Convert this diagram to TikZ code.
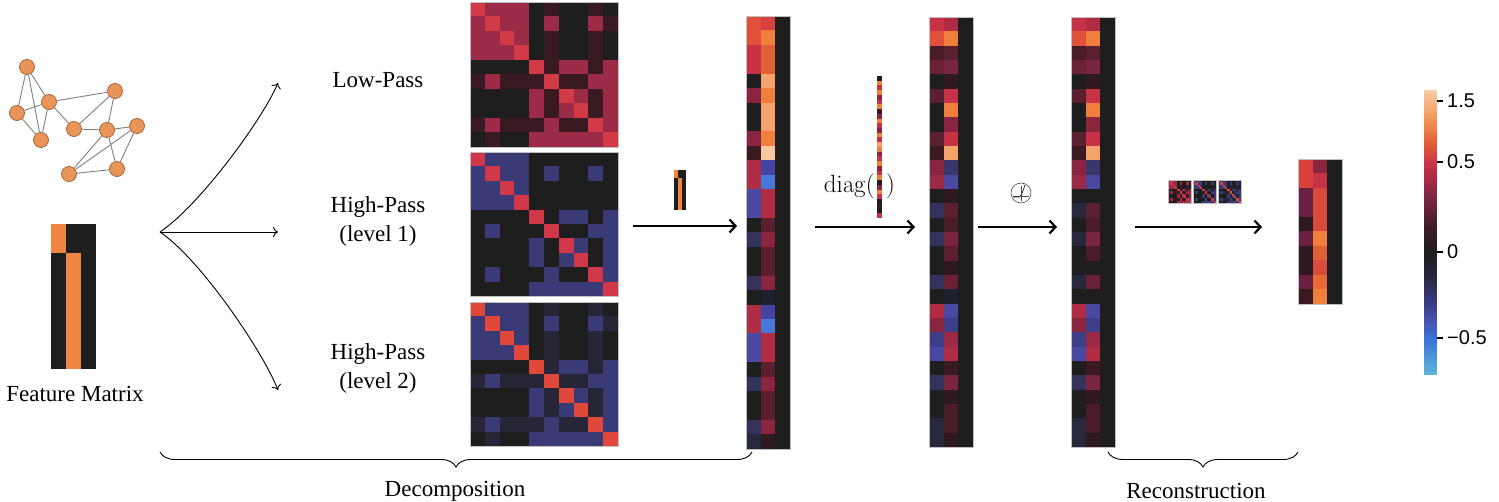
\documentclass[tikz,border=0pt]{standalone}
\usepackage[no-math]{fontspec}
\setmainfont{Liberation Serif}
\newfontfamily\cbfont{Liberation Sans}
\usetikzlibrary{arrows.meta,decorations.pathreplacing}
% matrix colours
\definecolor{K}{HTML}{1E1E1E}
\definecolor{lR}{HTML}{D23A48}
\definecolor{lM}{HTML}{9C2B47}
\definecolor{lD}{HTML}{3A1A22}
\definecolor{hR}{HTML}{D0384A}
\definecolor{hB}{HTML}{3A3A76}
\definecolor{gR}{HTML}{E0483C}
\definecolor{hN}{HTML}{262636}
% column colours
\definecolor{pO1}{HTML}{E0503A}
\definecolor{pRd}{HTML}{D84040}
\definecolor{pR}{HTML}{C83246}
\definecolor{pR2}{HTML}{B02C45}
\definecolor{pR3}{HTML}{9A2A45}
\definecolor{pM}{HTML}{8A2540}
\definecolor{pM2}{HTML}{7A2540}
\definecolor{pMD}{HTML}{6A2035}
\definecolor{pDR}{HTML}{5A2030}
\definecolor{pDR2}{HTML}{4A1C28}
\definecolor{pD}{HTML}{3A1A20}
\definecolor{pDDR}{HTML}{2E1A1E}
\definecolor{pO}{HTML}{F07E3C}
\definecolor{pOr}{HTML}{E06035}
\definecolor{pOr2}{HTML}{E86838}
\definecolor{pLO}{HTML}{F4A46A}
\definecolor{pPe}{HTML}{F8C8A0}
\definecolor{pBl}{HTML}{4A48A0}
\definecolor{pBB}{HTML}{4878D8}
\definecolor{pBP}{HTML}{4444A0}
\definecolor{pBN}{HTML}{3E3E88}
\definecolor{pN}{HTML}{32325A}
\definecolor{pN2}{HTML}{38366A}
\definecolor{pDN}{HTML}{28283C}
\definecolor{pDK}{HTML}{1E2030}
\definecolor{pO2}{HTML}{D8403A}
\definecolor{pRO}{HTML}{D84A3A}
\definecolor{pPu}{HTML}{6A2040}
\definecolor{nodeO}{HTML}{E8955A}
\definecolor{nodeE}{HTML}{A86438}
\definecolor{featO}{HTML}{EE8540}
% colorbar
\definecolor{cb1}{HTML}{F9CDA6}
\definecolor{cb2}{HTML}{F08A4A}
\definecolor{cb3}{HTML}{E05A38}
\definecolor{cb4}{HTML}{C8304A}
\definecolor{cb5}{HTML}{7A2440}
\definecolor{cb6}{HTML}{3A1C24}
\definecolor{cb7}{HTML}{1E1E1E}
\definecolor{cb8}{HTML}{26263A}
\definecolor{cb9}{HTML}{38387A}
\definecolor{cb10}{HTML}{4850B0}
\definecolor{cb11}{HTML}{3A70D8}
\definecolor{cb12}{HTML}{5CB4D8}

\def\matLP{{lR,lM,lM,lM,K,lD,K,K,lD,K},{lM,lR,lM,lM,K,lM,K,K,lM,lD},{lM,lM,lR,lM,K,lD,K,K,lD,K},{lM,lM,lM,lR,K,lD,K,K,lD,K},{K,K,K,K,lR,lD,lM,lM,lD,lM},{lD,lM,lD,lD,lD,lR,lD,lD,lM,lM},{K,K,K,K,lM,lD,lR,lM,lD,lM},{K,K,K,K,lM,lD,lM,lR,lD,lM},{lD,lM,lD,lD,lD,lM,lD,lD,lR,lM},{K,lD,K,K,lM,lM,lM,lM,lM,lR}}
\def\matHA{{hR,hB,hB,hB,K,K,K,K,K,K},{hB,hR,hB,hB,K,hB,K,K,hB,K},{hB,hB,hR,hB,K,K,K,K,K,K},{hB,hB,hB,hR,K,K,K,K,K,K},{K,K,K,K,hR,K,hB,hB,K,hB},{K,hB,K,K,K,hR,K,K,hB,hB},{K,K,K,K,hB,K,hR,hB,K,hB},{K,K,K,K,hB,K,hB,hR,K,hB},{K,hB,K,K,K,hB,K,K,hR,hB},{K,K,K,K,hB,hB,hB,hB,hB,hR}}
\def\matHB{{gR,hB,hB,hB,K,hN,K,K,hN,K},{hB,gR,hB,hB,K,hB,K,K,hB,hN},{hB,hB,gR,hB,K,hN,K,K,hN,K},{hB,hB,hB,gR,K,hN,K,K,hN,K},{K,K,K,K,gR,hN,hB,hB,hN,hB},{hN,hB,hN,hN,hN,gR,hN,hN,hB,hB},{K,K,K,K,hB,hN,gR,hB,hN,hB},{K,K,K,K,hB,hN,hB,gR,hN,hB},{hN,hB,hN,hN,hN,hB,hN,hN,gR,hB},{K,hN,K,K,hB,hB,hB,hB,hB,gR}}
\def\colA{{pO1,pRd,K},{pO1,pO,K},{pR,pOr,K},{pR,pOr,K},{K,pLO,K},{pM,pO,K},{K,pLO,K},{K,pLO,K},{pM,pO,K},{pD,pPe,K},{pR2,pBP,K},{pR2,pBB,K},{pBl,pR2,K},{pBl,pR2,K},{K,pDR,K},{pN,pM,K},{K,pDR,K},{K,pDR,K},{pN,pM,K},{K,pDK,K},{pR2,pBP,K},{pR2,pBB,K},{pBl,pR2,K},{pBl,pR2,K},{K,pDR,K},{pN,pM,K},{K,pDR,K},{K,pDR,K},{pN,pM,K},{pDN,pDDR,K}}
\def\colB{{pR,pR2,K},{pO1,pO,K},{pDR2,pDR,K},{pMD,pM2,K},{K,pDDR,K},{pDR,pR,K},{K,pO,K},{K,pM,K},{pDR,pR,K},{pD,pLO,K},{pM,pN2,K},{pR3,pBl,K},{K,pDDR,K},{pN,pDR,K},{K,pDR2,K},{pN,pM2,K},{K,pDR,K},{K,pDDR,K},{pN,pMD,K},{K,pDK,K},{pR2,pBl,K},{pM,pBN,K},{pBN,pR3,K},{pBl,pR2,K},{K,pD,K},{pN,pM2,K},{K,pDDR,K},{K,pDR2,K},{pDN,pDR2,K},{pDN,pDDR,K}}
\def\colC{{pR,pR2,K},{pO1,pO,K},{pDR2,pDR,K},{pMD,pM2,K},{K,pDDR,K},{pDR,pR,K},{K,pO,K},{K,pM,K},{pDR,pR,K},{pD,pLO,K},{pM,pN2,K},{pR3,pBl,K},{K,K,K},{pDN,pDR,K},{K,pDR2,K},{pDN,pM2,K},{K,pDR2,K},{K,K,K},{pDN,pMD,K},{K,K,K},{pR2,pBl,K},{pM,pBN,K},{pBN,pR3,K},{pBl,pR2,K},{K,pD,K},{pN,pM2,K},{K,pDDR,K},{K,pDR2,K},{pDN,pDR2,K},{pDN,pDDR,K}}
\def\colOut{{pO2,pM,K},{pO2,pR,K},{pPu,pRO,K},{pPu,pRO,K},{pDDR,pRO,K},{pPu,pO,K},{pDDR,pOr,K},{pDDR,pRO,K},{pPu,pOr2,K},{pD,pO,K}}
\def\colDiag{{K},{pO},{pR},{pO},{pM},{pR},{pO},{pD},{pM},{pO},{pR},{pM},{pO},{pR},{pLO},{pO},{pM},{pR},{pO},{pM},{pR},{pO},{K},{pM},{pO},{pR},{K},{pD},{K},{pR}}

% x, y, cell width, cell height, list macro
\newcommand{\heatgrid}[5]{%
  \foreach \rw [count=\ii from 0] in #5 {%
    \foreach \cc [count=\jj from 0] in \rw {%
      \fill[\cc] ({#1+\jj*#3},{#2+\ii*#4}) rectangle ++({#3+0.3},{#4+0.3});
    }%
  }%
}
\newcommand{\gradseg}[4]{%
  \foreach \t in {0,...,19} {%
    \pgfmathsetmacro{\pp}{\t*100/19}%
    \fill[#4!\pp!#3] (1424,{#1+(#2-#1)*\t/20}) rectangle (1437,{#1+(#2-#1)*(\t+1)/20+0.5});
  }%
}

\tikzset{
  gnode/.style={circle,fill=nodeO,draw=nodeE,line width=0.8pt,minimum size=15pt,inner sep=0pt},
  gedge/.style={draw=black!50,line width=0.9pt},
  lbl/.style={font=\fontsize{23}{27}\selectfont,inner sep=0pt},
  fanarrow/.style={line width=0.9pt,-{To[length=5pt,width=10pt]}},
  bigarrow/.style={line width=2.2pt,-{Straight Barb[length=6pt,width=13pt]}},
  matframe/.style={draw=black!25,line width=0.6pt},
  bracestyle/.style={decorate,line width=0.9pt},
  cblbl/.style={font=\cbfont\fontsize{20}{24}\selectfont,anchor=west,inner sep=0pt}
}

\begin{document}
\begin{tikzpicture}[x=1pt,y=-1pt]
\useasboundingbox (0,0) rectangle (1499,502);
\fill[white] (0,0) rectangle (1499,502);

% ---------- graph ----------
\node[gnode] (gA) at (27,67) {};
\node[gnode] (gB) at (49,102) {};
\node[gnode] (gC) at (17,113) {};
\node[gnode] (gD) at (41,140) {};
\node[gnode] (gE) at (115,91) {};
\node[gnode] (gF) at (74,129) {};
\node[gnode] (gG) at (107,130) {};
\node[gnode] (gH) at (137,126) {};
\node[gnode] (gI) at (69,174) {};
\node[gnode] (gJ) at (117,169) {};
\foreach \a/\b in {gA/gC,gA/gB,gA/gD,gC/gB,gC/gD,gB/gD,gB/gE,gB/gF,gF/gG,gE/gF,gE/gG,gG/gH,gG/gI,gG/gJ,gH/gI,gH/gJ,gI/gJ}
  \draw[gedge] (\a) -- (\b);

% ---------- feature matrix ----------
\fill[K] (51,224) rectangle (96,369);
\fill[featO] (51,224) rectangle (66,253);
\fill[featO] (66,253) rectangle (81,369);
\node[lbl] (featlbl) at (75,394) {Feature Matrix};

% ---------- fan arrows ----------
\coordinate (fan) at (160,232);
\coordinate (t1) at (278,83);
\coordinate (t2) at (278,232);
\coordinate (t3) at (278,390);
\draw[fanarrow] (fan) .. controls (200,205) and (262,120) .. (t1);
\draw[fanarrow] (fan) -- (t2);
\draw[fanarrow] (fan) .. controls (200,259) and (262,350) .. (t3);

\node[lbl] (lp) at (378,80) {Low-Pass};
\node[lbl] (hp1) at (378,207) {High-Pass};
\node[lbl] (hp1b) at (378,236) {(level 1)};
\node[lbl] (hp2) at (378,354) {High-Pass};
\node[lbl] (hp2b) at (378,383) {(level 2)};

% ---------- three matrices ----------
\heatgrid{470}{2}{14.8}{14.5}{\matLP}
\draw[matframe] (470,2) rectangle (618,147);
\heatgrid{470}{152}{14.8}{14.4}{\matHA}
\draw[matframe] (470,152) rectangle (618,296);
\heatgrid{470}{302}{14.8}{14.4}{\matHB}
\draw[matframe] (470,302) rectangle (618,446);

% small feature icon
\fill[K] (674,170) rectangle (686,210);
\fill[featO] (674,170) rectangle (678,178);
\fill[featO] (678,178) rectangle (682,210);

% arrow 1
\coordinate (a1s) at (633,226);
\coordinate (a1e) at (737,226);
\draw[bigarrow] (a1s) -- (a1e);

% column A
\heatgrid{746}{16}{14.7}{14.43}{\colA}
\draw[matframe] (746,16) rectangle (790,449);

% diag
\heatgrid{877}{76}{5}{4.73}{\colDiag}
\node[inner sep=0pt,anchor=east,font=\fontsize{28}{32}\selectfont] (diagL) at (875,186) {$\mathrm{diag}($};
\node[inner sep=0pt,anchor=west,font=\fontsize{28}{32}\selectfont] (diagR) at (886,186) {$)$};
\coordinate (a2s) at (815,227);
\coordinate (a2e) at (915,227);
\draw[bigarrow] (a2s) -- (a2e);

% column B
\heatgrid{929}{17}{14.7}{14.33}{\colB}
\draw[matframe] (929,17) rectangle (973,447);

% relu icon
\node[circle,draw=black!70,line width=0.6pt,minimum size=20pt,inner sep=0pt] (relu) at (1021,193) {};
\draw[line width=0.5pt,black!70] (1013,196) -- (1029,196);
\draw[line width=0.5pt,black!70] (1021,186) -- (1021,201);
\draw[line width=0.8pt,black!80] (1013,197) -- (1019,197) .. controls (1022,196) and (1023,190) .. (1025,185);
\coordinate (a3s) at (978,227);
\coordinate (a3e) at (1057,227);
\draw[bigarrow] (a3s) -- (a3e);

% column C
\heatgrid{1071}{17}{14.7}{14.33}{\colC}
\draw[matframe] (1071,17) rectangle (1115,447);

% mini matrices
\heatgrid{1168}{180}{2.3}{2.3}{\matLP}
\heatgrid{1193}{180}{2.3}{2.3}{\matHA}
\heatgrid{1218}{180}{2.3}{2.3}{\matHB}
\draw[matframe,line width=0.4pt] (1168,180) rectangle ++(23,23);
\draw[matframe,line width=0.4pt] (1193,180) rectangle ++(23,23);
\draw[matframe,line width=0.4pt] (1218,180) rectangle ++(23,23);

\coordinate (a4s) at (1135,227);
\coordinate (a4e) at (1262,227);
\draw[bigarrow] (a4s) -- (a4e);

% output
\heatgrid{1298}{159}{14.7}{14.5}{\colOut}
\draw[matframe] (1298,159) rectangle (1342,304);

% ---------- colorbar ----------
\gradseg{90}{125}{cb1}{cb2}
\gradseg{125}{145}{cb2}{cb3}
\gradseg{145}{165}{cb3}{cb4}
\gradseg{165}{200}{cb4}{cb5}
\gradseg{200}{230}{cb5}{cb6}
\gradseg{230}{252}{cb6}{cb7}
\gradseg{252}{275}{cb7}{cb8}
\gradseg{275}{300}{cb8}{cb9}
\gradseg{300}{320}{cb9}{cb10}
\gradseg{320}{338}{cb10}{cb11}
\gradseg{338}{375}{cb11}{cb12}
\foreach \yy/\tt [count=\k] in {101/1.5,162/0.5,252/0,338/{\char"2212 0.5}} {
  \draw[line width=1.2pt] (1437,\yy) -- (1443,\yy);
  \node[cblbl] (cbl\k) at (1447,\yy) {\tt};
}

% ---------- braces ----------
\draw[bracestyle,decoration={brace,mirror,amplitude=15pt}] (160,452) -- (752,452);
\node[lbl] (decomp) at (455,491) {Decomposition};
\draw[bracestyle,decoration={brace,mirror,amplitude=15pt}] (1108,452) -- (1298,452);
\node[lbl] (recon) at (1196,491) {Reconstruction};
\end{tikzpicture}
\end{document}
